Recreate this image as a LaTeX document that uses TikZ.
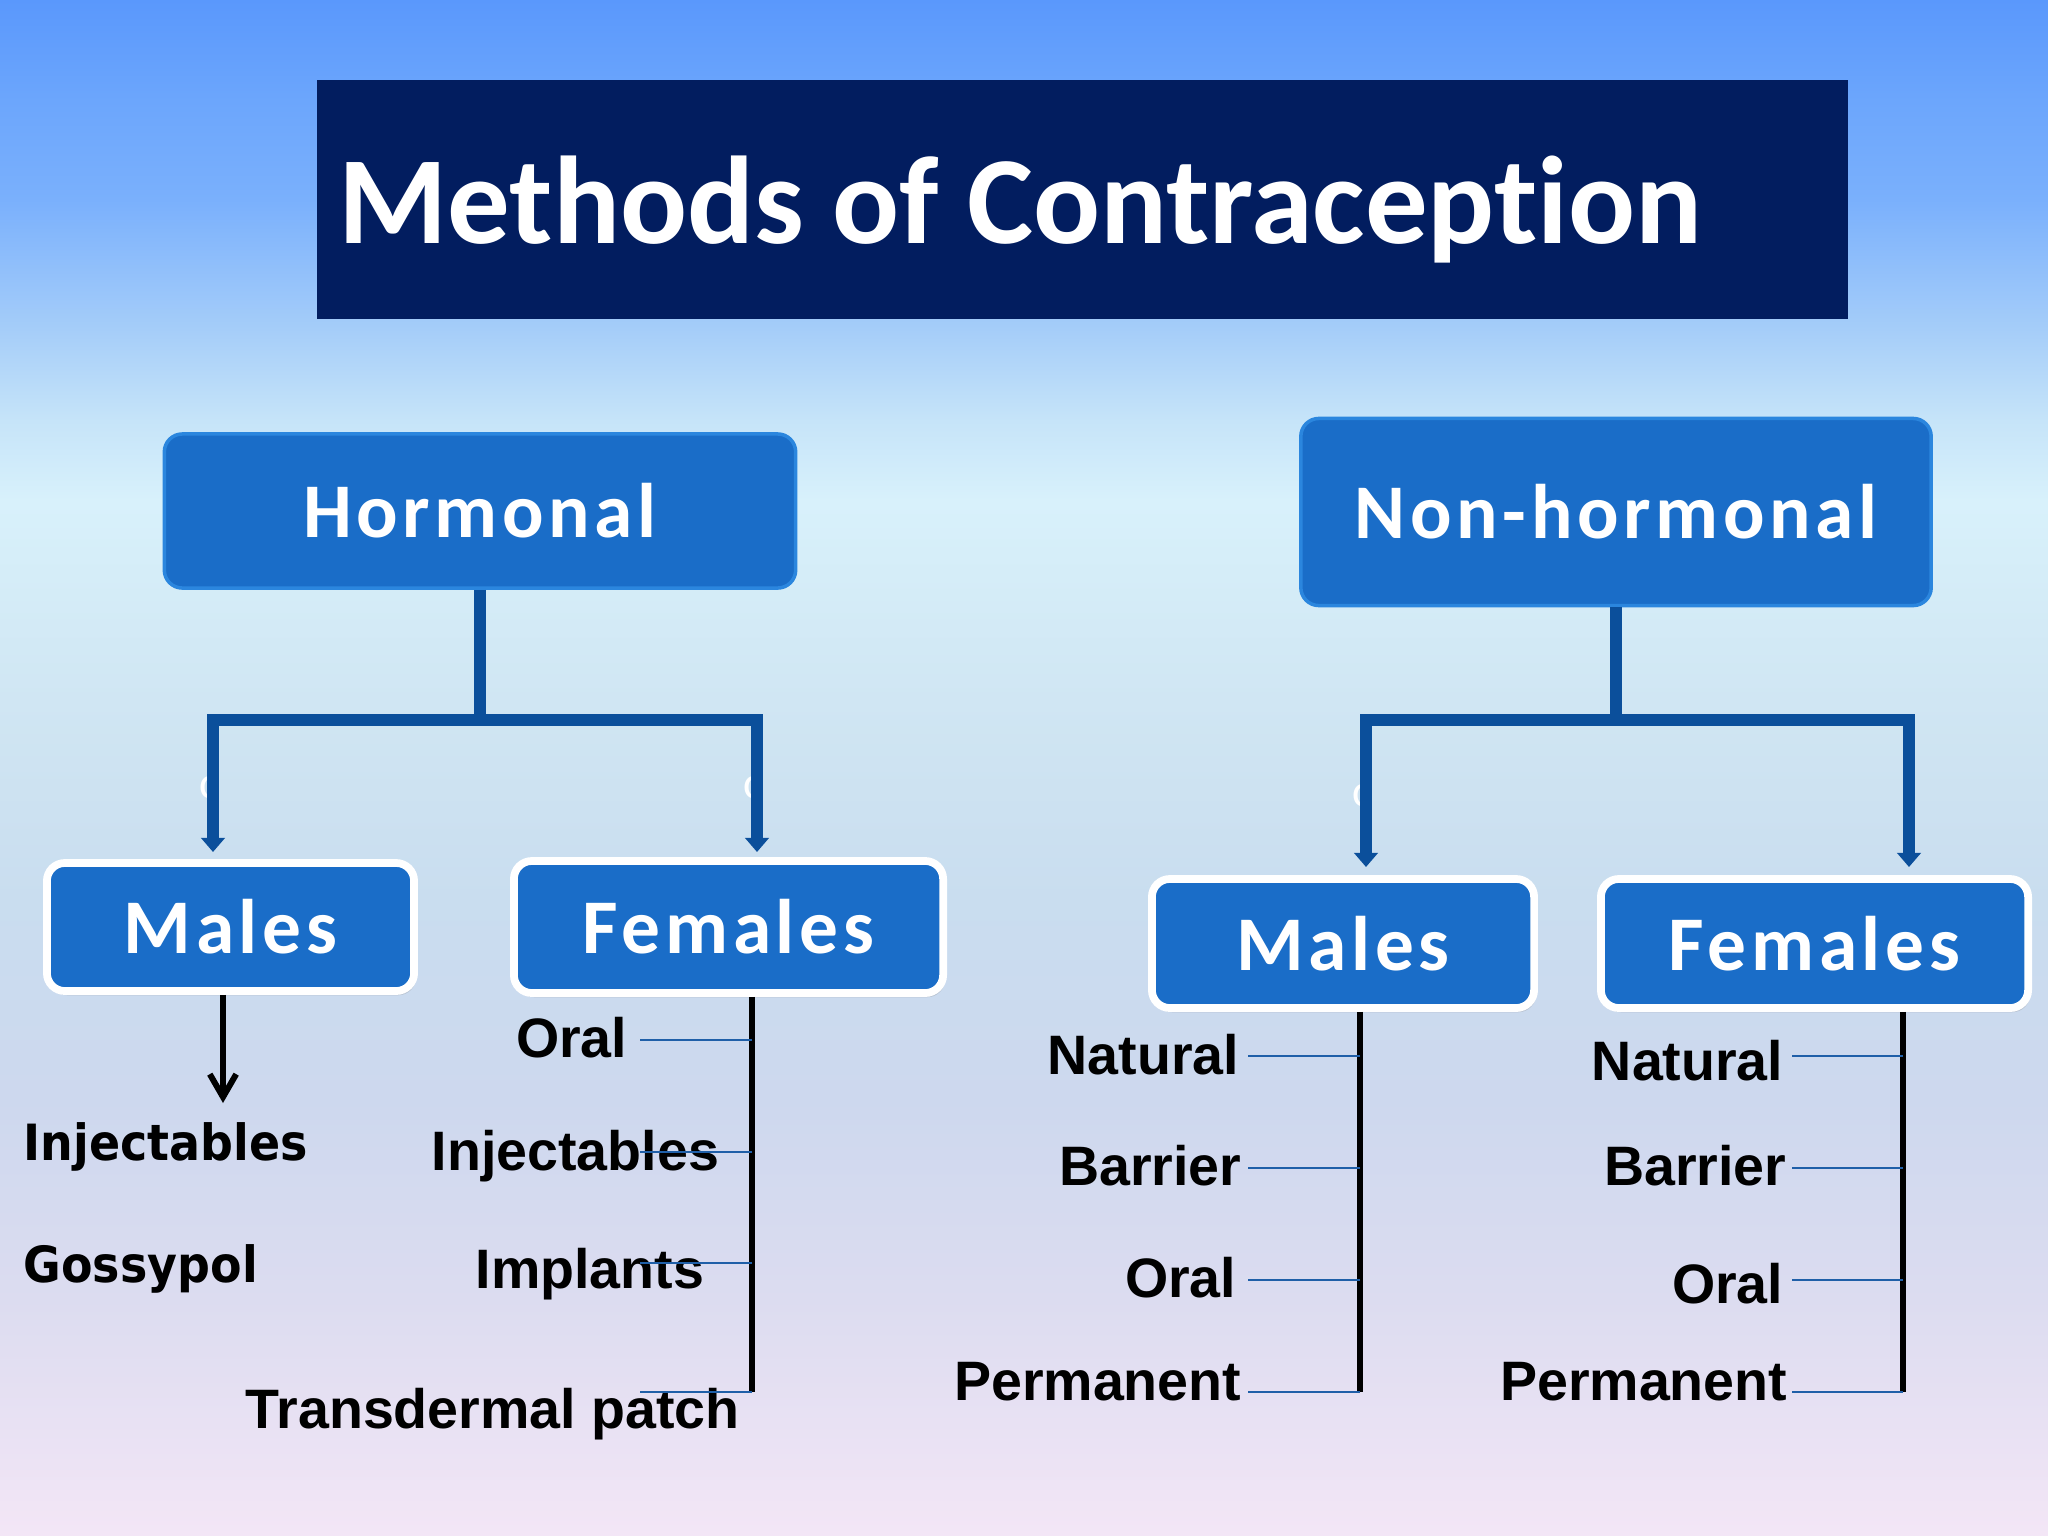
\documentclass[tikz,border=0pt]{standalone}
\usepackage{fontspec}
\setmainfont{Liberation Sans}
\newfontfamily\headfont[Ligatures=NoCommon]{Carlito}
\newfontfamily\boxfont[LetterSpace=6]{Carlito}
\newfontfamily\widefont[FakeStretch=0.92]{DejaVu Sans}
\usetikzlibrary{arrows.meta, positioning, shadows}

\definecolor{bannerblue}{HTML}{021D5F}
\definecolor{boxblue}{HTML}{1A6DC8}
\definecolor{boxrim}{HTML}{2B86DE}
\definecolor{linkblue}{HTML}{0B4F9B}
\definecolor{twigblue}{HTML}{1F5FA8}
\definecolor{bg0}{HTML}{F3E6F6}
\definecolor{bg1}{HTML}{DCDCF0}
\definecolor{bg2}{HTML}{CDD8EE}
\definecolor{bg3}{HTML}{C9DDEF}
\definecolor{bg4}{HTML}{D0E6F3}
\definecolor{bg5}{HTML}{D8F1FB}
\definecolor{bg6}{HTML}{C6E4F9}
\definecolor{bg7}{HTML}{A5CDF9}
\definecolor{bg8}{HTML}{7AB0FC}
\definecolor{bg9}{HTML}{6CA6FC}
\definecolor{bg10}{HTML}{5A98FC}

% the slide spans 25bp (bottom) to 75bp (top) of the shading
\pgfdeclareverticalshading{slidebg}{100bp}{%
  color(0bp)=(bg0); color(25bp)=(bg0); color(32.7bp)=(bg1); color(39.2bp)=(bg2);
  color(45.7bp)=(bg3); color(52.2bp)=(bg4); color(58.7bp)=(bg5); color(61.3bp)=(bg6);
  color(64.3bp)=(bg7); color(68.5bp)=(bg8); color(71.7bp)=(bg9); color(75bp)=(bg10);
  color(100bp)=(bg10)}

\tikzset{node distance = 1cm,
         >= Stealth,
         banner/.style = {rectangle, fill=bannerblue, inner sep=0pt},
         groupbox/.style = {rectangle, rounded corners=0.18cm,
                            fill=boxblue, draw=boxrim, line width=1pt,
                            text=white,
                            font=\boxfont\bfseries\fontsize{22}{26}\selectfont},
         sexbox/.style = {groupbox, draw=white, line width=2.2pt,
                          drop shadow={opacity=0.25, shadow xshift=0.6pt,
                                       shadow yshift=-1.2pt}},
         link/.style = {draw=linkblue, line width=3.4pt},
         fork/.style = {link, -{Triangle[length=4pt, width=6.6pt]}},
         bar/.style = {draw=black, line width=1.7pt},
         twig/.style = {draw=twigblue, line width=0.7pt},
         item/.style = {inner sep=0pt,
                        font=\bfseries\fontsize{15.8}{18}\selectfont},
         mitem/.style = {item,
                         font=\widefont\bfseries\fontsize{14.2}{17}\selectfont},
         stray/.style = {text=white, inner sep=0pt,
                         font=\headfont\fontsize{13}{14}\selectfont}}

\begin{document}
\begin{tikzpicture}[x=0.01cm, y=-0.01cm]
  \useasboundingbox (0,0) rectangle (2048,1536);
  \shade[shading=slidebg] (0,0) rectangle (2048,1536);

  % title bar
  \node[banner, minimum width=15.31cm, minimum height=2.39cm] (banner) at (1082.5,199.5) {};
  \node[anchor=base west, inner sep=0pt, text=white,
        font=\headfont\bfseries\fontsize{35.5}{40}\selectfont] (title) at (338,243) {Methods of Contraception};

  % the two groups
  \node[groupbox, minimum width=6.31cm, minimum height=1.54cm] (hormonal)    at (480,511)  {Hormonal};
  \node[groupbox, minimum width=6.30cm, minimum height=1.87cm] (nonhormonal) at (1616,512) {Non-hormonal};

  \node[sexbox, minimum width=3.67cm, minimum height=1.28cm] (hmales)   at (230.5,927) {Males};
  \node[sexbox, minimum width=4.29cm, minimum height=1.32cm] (hfemales) [right = 0.92cm of hmales] {Females};
  \node[sexbox, minimum width=3.82cm, minimum height=1.29cm] (nmales)   at (1343,943.5) {Males};
  \node[sexbox, minimum width=4.27cm, minimum height=1.29cm] (nfemales) [right = 0.59cm of nmales] {Females};

  % stray glyphs behind the arrows
  \node[stray] (c1) at (209,788) {c};
  \node[stray] (c2) at (753,788) {c};
  \node[stray] (c3) at (1362,796) {c};

  % blue forks
  \coordinate (hsplit) at (480,720);
  \coordinate (hmtip)  at (213,852);
  \coordinate (hftip)  at (757,852);
  \draw[link] (hormonal.south) -- (hsplit);
  \draw[fork] (hsplit) -| (hmtip);
  \draw[fork] (hsplit) -| (hftip);

  \coordinate (nsplit) at (1616,720);
  \coordinate (nmtip)  at (1366,867);
  \coordinate (nftip)  at (1909,867);
  \draw[link] (nonhormonal.south) -- (nsplit);
  \draw[fork] (nsplit) -| (nmtip);
  \draw[fork] (nsplit) -| (nftip);

  % hormonal, males
  \coordinate (hmfoot) at (223,1103);
  \draw[bar, -{Straight Barb[length=6.5pt, width=7.5pt]}] (hmfoot |- hmales.south) -- (hmfoot);
  \node[mitem, anchor=base west] (hminject) at (23,1160) {Injectables};
  \node[mitem, anchor=base west] (gossypol) at (23,1282) {Gossypol};

  % hormonal, females
  \coordinate (hfbar)  at (752,1392);
  \coordinate (hftwig) at (640,1392);
  \coordinate (hf1) at (752,1040);
  \coordinate (hf2) at (752,1152);
  \coordinate (hf3) at (752,1263);
  \draw[bar] (hfbar |- hfemales.south) -- (hfbar);
  \node[item, anchor=base east] (hforal)    at (628,1057) {Oral};
  \node[item, anchor=base west] (hfinject)  at (431,1170) {Injectables};
  \node[item, anchor=base west] (implants)  at (475,1288) {Implants};
  \node[item, anchor=base west] (patch)     at (245,1428) {Transdermal patch};
  \draw[twig] (hf1) -- (hf1 -| hftwig);
  \draw[twig] (hf2) -- (hf2 -| hftwig);
  \draw[twig] (hf3) -- (hf3 -| hftwig);
  \draw[twig] (hfbar) -- (hftwig);

  % non-hormonal, males
  \coordinate (nmbar)  at (1360,1392);
  \coordinate (nmtwig) at (1248,1392);
  \coordinate (nm1) at (1360,1056);
  \coordinate (nm2) at (1360,1168);
  \coordinate (nm3) at (1360,1280);
  \draw[bar] (nmbar |- nmales.south) -- (nmbar);
  \node[item, anchor=base east] (nmnatural) at (1240,1074) {Natural};
  \node[item, anchor=base east] (nmbarrier) at (1242,1185) {Barrier};
  \node[item, anchor=base east] (nmoral)    at (1237,1297) {Oral};
  \node[item, anchor=base east] (nmperm)    at (1242,1400) {Permanent};
  \draw[twig] (nm1) -- (nm1 -| nmtwig);
  \draw[twig] (nm2) -- (nm2 -| nmtwig);
  \draw[twig] (nm3) -- (nm3 -| nmtwig);
  \draw[twig] (nmbar) -- (nmtwig);

  % non-hormonal, females
  \coordinate (nfbar)  at (1903,1392);
  \coordinate (nftwig) at (1792,1392);
  \coordinate (nf1) at (1903,1056);
  \coordinate (nf2) at (1903,1168);
  \coordinate (nf3) at (1903,1280);
  \draw[bar] (nfbar |- nfemales.south) -- (nfbar);
  \node[item, anchor=base east] (nfnatural) at (1784,1080) {Natural};
  \node[item, anchor=base east] (nfbarrier) at (1787,1185) {Barrier};
  \node[item, anchor=base east] (nforal)    at (1784,1303) {Oral};
  \node[item, anchor=base east] (nfperm)    at (1788,1400) {Permanent};
  \draw[twig] (nf1) -- (nf1 -| nftwig);
  \draw[twig] (nf2) -- (nf2 -| nftwig);
  \draw[twig] (nf3) -- (nf3 -| nftwig);
  \draw[twig] (nfbar) -- (nftwig);
\end{tikzpicture}
\end{document}
